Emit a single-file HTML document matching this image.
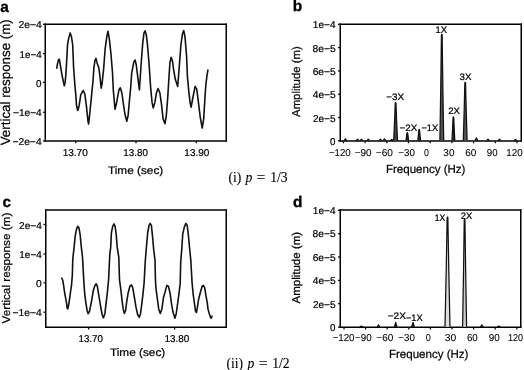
<!DOCTYPE html>
<html><head><meta charset="utf-8"><title>Figure</title>
<style>html,body{margin:0;padding:0;background:#fff;width:524px;height:370px;overflow:hidden}svg{display:block}text{fill:#000}</style>
</head><body>
<svg width="524" height="370" viewBox="0 0 524 370">
<rect width="524" height="370" fill="#fff"/>
<path d="M45.25,23.60 V141.85" stroke="#000" stroke-width="1.5" fill="none"/>
<path d="M226.25,23.60 V141.85" stroke="#000" stroke-width="1.5" fill="none"/>
<path d="M44.50,24.30 H227.00" stroke="#000" stroke-width="1.4" fill="none"/>
<path d="M44.50,141.00 H227.00" stroke="#000" stroke-width="1.7" fill="none"/>
<line x1="42.95" y1="24.30" x2="45.25" y2="24.30" stroke="#111" stroke-width="1.3"/>
<line x1="42.95" y1="53.60" x2="45.25" y2="53.60" stroke="#111" stroke-width="1.3"/>
<line x1="42.95" y1="82.30" x2="45.25" y2="82.30" stroke="#111" stroke-width="1.3"/>
<line x1="42.95" y1="112.30" x2="45.25" y2="112.30" stroke="#111" stroke-width="1.3"/>
<line x1="42.95" y1="140.90" x2="45.25" y2="140.90" stroke="#111" stroke-width="1.3"/>
<line x1="75.80" y1="141.00" x2="75.80" y2="143.30" stroke="#111" stroke-width="1.3"/>
<line x1="136.00" y1="141.00" x2="136.00" y2="143.30" stroke="#111" stroke-width="1.3"/>
<line x1="196.30" y1="141.00" x2="196.30" y2="143.30" stroke="#111" stroke-width="1.3"/>
<path d="M56.80,68.20 L57.40,64.20 L58.40,60.10 L59.10,59.20 L59.70,60.80 L60.50,66.20 L61.50,72.30 L62.40,77.00 L63.50,82.40 L64.30,85.80 L65.10,82.40 L65.90,74.30 L66.50,63.50 L67.00,55.40 L67.50,45.00 L68.60,38.60 L70.20,32.90 L71.50,37.00 L72.70,45.00 L73.60,67.60 L74.30,77.00 L75.00,86.50 L75.90,95.90 L76.40,104.30 L77.50,110.00 L77.90,110.40 L79.10,105.90 L80.80,94.60 L83.20,90.50 L84.80,93.80 L86.40,105.90 L87.90,120.50 L88.60,124.00 L89.90,112.40 L91.50,96.20 L93.10,80.00 L93.90,67.70 L95.00,60.40 L95.90,58.30 L97.10,62.90 L98.80,67.70 L99.90,75.80 L100.70,84.00 L101.20,88.10 L102.00,84.00 L103.60,69.30 L105.20,48.30 L106.90,36.10 L108.00,31.30 L109.30,38.60 L110.90,53.20 L112.50,72.60 L113.30,90.00 L115.00,109.20 L116.60,102.70 L119.00,89.70 L120.30,87.80 L121.90,93.00 L123.20,102.70 L124.90,114.00 L126.80,121.30 L128.10,115.60 L129.40,101.00 L130.50,89.70 L131.70,73.00 L133.80,62.10 L135.10,60.00 L136.20,64.50 L137.80,77.40 L139.40,90.00 L141.10,64.50 L142.70,43.40 L144.00,32.90 L145.10,30.80 L146.40,35.30 L147.50,45.00 L149.10,64.50 L150.80,89.70 L152.10,102.70 L153.20,107.90 L154.80,102.70 L156.40,93.00 L158.10,88.50 L159.90,93.00 L161.50,104.30 L163.10,118.90 L165.00,123.70 L166.30,115.60 L167.60,99.40 L168.80,80.00 L169.90,62.90 L171.20,57.20 L172.50,61.20 L173.60,69.30 L175.20,79.10 L177.70,86.50 L179.30,66.10 L180.90,45.00 L182.50,33.70 L183.70,30.50 L185.00,37.00 L186.60,56.40 L187.40,76.20 L188.70,90.40 L190.10,102.60 L191.10,107.10 L193.10,96.50 L195.10,86.40 L196.80,89.40 L198.20,100.60 L200.20,116.80 L202.20,128.00 L203.70,118.80 L204.90,98.50 L205.90,84.30 L206.90,76.20 L207.90,70.10" fill="none" stroke="#111" stroke-width="1.6" stroke-linejoin="round" stroke-linecap="round"/>
<path d="M45.75,209.15 V328.00" stroke="#000" stroke-width="1.5" fill="none"/>
<path d="M226.25,209.15 V328.00" stroke="#000" stroke-width="1.5" fill="none"/>
<path d="M45.00,210.00 H227.00" stroke="#000" stroke-width="1.7" fill="none"/>
<path d="M45.00,327.25 H227.00" stroke="#000" stroke-width="1.5" fill="none"/>
<line x1="43.45" y1="224.50" x2="45.75" y2="224.50" stroke="#111" stroke-width="1.3"/>
<line x1="43.45" y1="254.00" x2="45.75" y2="254.00" stroke="#111" stroke-width="1.3"/>
<line x1="43.45" y1="282.80" x2="45.75" y2="282.80" stroke="#111" stroke-width="1.3"/>
<line x1="43.45" y1="312.20" x2="45.75" y2="312.20" stroke="#111" stroke-width="1.3"/>
<line x1="88.60" y1="327.25" x2="88.60" y2="329.55" stroke="#111" stroke-width="1.3"/>
<line x1="174.60" y1="327.25" x2="174.60" y2="329.55" stroke="#111" stroke-width="1.3"/>
<path d="M61.80,278.20 L62.80,280.50 L63.80,286.60 L64.50,292.00 L65.50,297.40 L66.50,302.80 L67.20,308.20 L67.80,308.90 L68.50,305.50 L69.60,298.80 L70.50,292.00 L71.50,285.30 L72.30,275.80 L72.80,258.70 L74.10,247.40 L75.20,236.10 L76.40,229.60 L77.70,226.30 L79.00,228.00 L80.10,234.40 L81.20,245.80 L82.50,257.10 L83.80,281.00 L84.60,292.70 L85.80,302.40 L87.10,310.50 L88.20,313.70 L89.50,311.30 L91.60,300.80 L93.20,291.10 L94.90,285.40 L96.20,283.80 L97.30,286.20 L98.90,295.90 L100.50,305.60 L102.10,314.50 L103.40,317.80 L104.90,313.70 L106.20,302.40 L107.50,291.10 L108.60,279.70 L109.80,253.90 L110.70,247.40 L111.40,232.80 L112.70,226.30 L114.00,223.90 L115.10,226.30 L116.20,234.40 L117.20,247.40 L118.80,257.10 L119.50,279.70 L120.80,289.40 L122.10,300.80 L123.20,308.90 L124.30,313.40 L125.60,310.50 L126.60,302.40 L128.20,292.70 L129.90,286.20 L131.50,284.90 L132.80,287.80 L134.40,297.50 L136.00,307.20 L137.60,314.50 L139.30,317.30 L140.50,313.70 L142.00,302.40 L143.10,292.70 L144.10,283.00 L145.20,262.00 L146.40,247.40 L147.70,232.80 L149.00,225.50 L150.10,223.40 L151.40,225.50 L152.50,236.10 L153.80,250.60 L155.00,260.30 L155.50,281.30 L156.10,289.40 L157.40,299.10 L158.70,308.90 L160.30,313.40 L161.90,308.90 L163.50,297.50 L164.90,292.70 L166.80,285.40 L168.40,286.20 L170.00,292.70 L171.30,302.40 L173.00,312.10 L174.90,318.30 L176.20,313.70 L177.80,302.40 L179.10,292.70 L180.20,283.00 L180.70,262.00 L181.90,247.40 L182.70,234.40 L184.30,227.10 L185.90,223.40 L187.20,225.50 L188.30,234.40 L189.50,247.40 L190.80,260.30 L192.10,283.00 L193.20,294.30 L194.30,302.40 L195.60,311.30 L196.40,312.50 L197.40,307.30 L198.60,299.20 L199.90,294.30 L201.20,289.50 L202.30,285.90 L203.40,285.40 L204.70,287.80 L206.00,295.90 L207.20,302.40 L208.00,308.90 L209.30,313.80 L210.40,317.00 L211.20,318.30 L212.00,316.20" fill="none" stroke="#111" stroke-width="1.6" stroke-linejoin="round" stroke-linecap="round"/>
<path d="M340.25,23.60 V141.85" stroke="#000" stroke-width="1.5" fill="none"/>
<path d="M521.25,23.60 V141.85" stroke="#000" stroke-width="1.5" fill="none"/>
<path d="M339.50,24.30 H522.00" stroke="#000" stroke-width="1.4" fill="none"/>
<path d="M339.50,141.00 H522.00" stroke="#000" stroke-width="1.7" fill="none"/>
<line x1="337.95" y1="24.30" x2="340.25" y2="24.30" stroke="#111" stroke-width="1.3"/>
<line x1="337.95" y1="47.60" x2="340.25" y2="47.60" stroke="#111" stroke-width="1.3"/>
<line x1="337.95" y1="70.90" x2="340.25" y2="70.90" stroke="#111" stroke-width="1.3"/>
<line x1="337.95" y1="94.20" x2="340.25" y2="94.20" stroke="#111" stroke-width="1.3"/>
<line x1="337.95" y1="117.50" x2="340.25" y2="117.50" stroke="#111" stroke-width="1.3"/>
<line x1="337.95" y1="140.80" x2="340.25" y2="140.80" stroke="#111" stroke-width="1.3"/>
<line x1="343.40" y1="141.00" x2="343.40" y2="143.30" stroke="#111" stroke-width="1.3"/>
<line x1="365.10" y1="141.00" x2="365.10" y2="143.30" stroke="#111" stroke-width="1.3"/>
<line x1="386.80" y1="141.00" x2="386.80" y2="143.30" stroke="#111" stroke-width="1.3"/>
<line x1="408.50" y1="141.00" x2="408.50" y2="143.30" stroke="#111" stroke-width="1.3"/>
<line x1="430.20" y1="141.00" x2="430.20" y2="143.30" stroke="#111" stroke-width="1.3"/>
<line x1="451.90" y1="141.00" x2="451.90" y2="143.30" stroke="#111" stroke-width="1.3"/>
<line x1="473.60" y1="141.00" x2="473.60" y2="143.30" stroke="#111" stroke-width="1.3"/>
<line x1="495.30" y1="141.00" x2="495.30" y2="143.30" stroke="#111" stroke-width="1.3"/>
<line x1="517.00" y1="141.00" x2="517.00" y2="143.30" stroke="#111" stroke-width="1.3"/>
<path d="M393.70,140.50 L394.55,121.50 L395.25,103.10 L395.60,102.50 L395.95,103.10 L396.65,121.50 L397.50,140.50 Z" fill="#444" stroke="none"/>
<path d="M393.70,140.50 L394.55,121.50 L395.25,103.10 L395.60,102.50 L395.95,103.10 L396.65,121.50 L397.50,140.50" fill="none" stroke="#111" stroke-width="1.25" stroke-linejoin="round"/>
<path d="M406.00,140.50 L406.52,136.55 L406.95,133.20 L407.30,132.60 L407.65,133.20 L408.08,136.55 L408.60,140.50 Z" fill="#222" stroke="none"/>
<path d="M406.00,140.50 L406.52,136.55 L406.95,133.20 L407.30,132.60 L407.65,133.20 L408.08,136.55 L408.60,140.50" fill="none" stroke="#111" stroke-width="1.25" stroke-linejoin="round"/>
<path d="M417.90,140.50 L418.42,134.95 L418.85,130.00 L419.20,129.40 L419.55,130.00 L419.98,134.95 L420.50,140.50 Z" fill="#222" stroke="none"/>
<path d="M417.90,140.50 L418.42,134.95 L418.85,130.00 L419.20,129.40 L419.55,130.00 L419.98,134.95 L420.50,140.50" fill="none" stroke="#111" stroke-width="1.25" stroke-linejoin="round"/>
<path d="M439.90,140.50 L440.75,87.35 L441.45,34.80 L441.80,34.20 L442.15,34.80 L442.85,87.35 L443.70,140.50 Z" fill="#555" stroke="none"/>
<path d="M439.90,140.50 L440.75,87.35 L441.45,34.80 L441.80,34.20 L442.15,34.80 L442.85,87.35 L443.70,140.50" fill="none" stroke="#111" stroke-width="1.25" stroke-linejoin="round"/>
<path d="M452.00,140.50 L452.58,128.70 L453.05,117.50 L453.40,116.90 L453.75,117.50 L454.22,128.70 L454.80,140.50 Z" fill="#222" stroke="none"/>
<path d="M452.00,140.50 L452.58,128.70 L453.05,117.50 L453.40,116.90 L453.75,117.50 L454.22,128.70 L454.80,140.50" fill="none" stroke="#111" stroke-width="1.25" stroke-linejoin="round"/>
<path d="M463.30,140.50 L464.15,111.35 L464.85,82.80 L465.20,82.20 L465.55,82.80 L466.25,111.35 L467.10,140.50 Z" fill="#555" stroke="none"/>
<path d="M463.30,140.50 L464.15,111.35 L464.85,82.80 L465.20,82.20 L465.55,82.80 L466.25,111.35 L467.10,140.50" fill="none" stroke="#111" stroke-width="1.25" stroke-linejoin="round"/>
<path d="M344.10,140.50 L345.40,138.70 L346.70,140.50" fill="#111" stroke="#111" stroke-width="1.1" stroke-linejoin="round" stroke-linecap="round"/>
<path d="M356.20,140.50 L357.50,139.00 L358.80,140.50" fill="#111" stroke="#111" stroke-width="1.1" stroke-linejoin="round" stroke-linecap="round"/>
<path d="M360.20,140.50 L361.50,139.00 L362.80,140.50" fill="#111" stroke="#111" stroke-width="1.1" stroke-linejoin="round" stroke-linecap="round"/>
<path d="M367.00,140.50 L368.30,139.00 L369.60,140.50" fill="#111" stroke="#111" stroke-width="1.1" stroke-linejoin="round" stroke-linecap="round"/>
<path d="M379.10,140.50 L380.40,139.00 L381.70,140.50" fill="#111" stroke="#111" stroke-width="1.1" stroke-linejoin="round" stroke-linecap="round"/>
<path d="M383.10,140.50 L384.40,138.70 L385.70,140.50" fill="#111" stroke="#111" stroke-width="1.1" stroke-linejoin="round" stroke-linecap="round"/>
<path d="M390.50,140.50 L391.80,139.30 L393.10,140.50" fill="#111" stroke="#111" stroke-width="1.1" stroke-linejoin="round" stroke-linecap="round"/>
<path d="M475.10,140.50 L476.40,137.70 L477.70,140.50" fill="#111" stroke="#111" stroke-width="1.1" stroke-linejoin="round" stroke-linecap="round"/>
<path d="M486.70,140.50 L488.00,139.00 L489.30,140.50" fill="#111" stroke="#111" stroke-width="1.1" stroke-linejoin="round" stroke-linecap="round"/>
<path d="M498.20,140.50 L499.50,139.00 L500.80,140.50" fill="#111" stroke="#111" stroke-width="1.1" stroke-linejoin="round" stroke-linecap="round"/>
<path d="M514.20,140.50 L515.50,139.50 L516.80,140.50" fill="#111" stroke="#111" stroke-width="1.1" stroke-linejoin="round" stroke-linecap="round"/>
<path d="M340.25,209.15 V328.00" stroke="#000" stroke-width="1.5" fill="none"/>
<path d="M520.75,209.15 V328.00" stroke="#000" stroke-width="1.5" fill="none"/>
<path d="M339.50,210.00 H521.50" stroke="#000" stroke-width="1.7" fill="none"/>
<path d="M339.50,327.25 H521.50" stroke="#000" stroke-width="1.5" fill="none"/>
<line x1="337.95" y1="210.30" x2="340.25" y2="210.30" stroke="#111" stroke-width="1.3"/>
<line x1="337.95" y1="233.70" x2="340.25" y2="233.70" stroke="#111" stroke-width="1.3"/>
<line x1="337.95" y1="257.00" x2="340.25" y2="257.00" stroke="#111" stroke-width="1.3"/>
<line x1="337.95" y1="280.40" x2="340.25" y2="280.40" stroke="#111" stroke-width="1.3"/>
<line x1="337.95" y1="303.70" x2="340.25" y2="303.70" stroke="#111" stroke-width="1.3"/>
<line x1="337.95" y1="327.10" x2="340.25" y2="327.10" stroke="#111" stroke-width="1.3"/>
<line x1="344.00" y1="327.25" x2="344.00" y2="329.55" stroke="#111" stroke-width="1.3"/>
<line x1="365.60" y1="327.25" x2="365.60" y2="329.55" stroke="#111" stroke-width="1.3"/>
<line x1="387.20" y1="327.25" x2="387.20" y2="329.55" stroke="#111" stroke-width="1.3"/>
<line x1="408.80" y1="327.25" x2="408.80" y2="329.55" stroke="#111" stroke-width="1.3"/>
<line x1="430.40" y1="327.25" x2="430.40" y2="329.55" stroke="#111" stroke-width="1.3"/>
<line x1="452.00" y1="327.25" x2="452.00" y2="329.55" stroke="#111" stroke-width="1.3"/>
<line x1="473.60" y1="327.25" x2="473.60" y2="329.55" stroke="#111" stroke-width="1.3"/>
<line x1="495.20" y1="327.25" x2="495.20" y2="329.55" stroke="#111" stroke-width="1.3"/>
<line x1="516.80" y1="327.25" x2="516.80" y2="329.55" stroke="#111" stroke-width="1.3"/>
<path d="M445.00,326.75 L446.18,271.88 L447.15,217.60 L447.50,217.00 L447.85,217.60 L448.82,271.88 L450.00,326.75 Z" fill="#ddd" stroke="none"/>
<path d="M445.00,326.75 L446.18,271.88 L447.15,217.60 L447.50,217.00 L447.85,217.60 L448.82,271.88 L450.00,326.75" fill="none" stroke="#111" stroke-width="1.25" stroke-linejoin="round"/>
<path d="M462.60,326.75 L463.51,273.02 L464.25,219.90 L464.60,219.30 L464.95,219.90 L465.69,273.02 L466.60,326.75 Z" fill="#ccc" stroke="none"/>
<path d="M462.60,326.75 L463.51,273.02 L464.25,219.90 L464.60,219.30 L464.95,219.90 L465.69,273.02 L466.60,326.75" fill="none" stroke="#111" stroke-width="1.25" stroke-linejoin="round"/>
<path d="M360.00,326.75 L361.30,325.95 L362.60,326.75" fill="#111" stroke="#111" stroke-width="1.1" stroke-linejoin="round" stroke-linecap="round"/>
<path d="M377.20,326.75 L378.50,324.75 L379.80,326.75" fill="#111" stroke="#111" stroke-width="1.1" stroke-linejoin="round" stroke-linecap="round"/>
<path d="M394.40,326.75 L395.70,322.25 L397.00,326.75" fill="#111" stroke="#111" stroke-width="1.1" stroke-linejoin="round" stroke-linecap="round"/>
<path d="M411.70,326.75 L413.00,322.25 L414.30,326.75" fill="#111" stroke="#111" stroke-width="1.1" stroke-linejoin="round" stroke-linecap="round"/>
<path d="M480.50,326.75 L481.80,324.75 L483.10,326.75" fill="#111" stroke="#111" stroke-width="1.1" stroke-linejoin="round" stroke-linecap="round"/>
<path d="M497.50,326.75 L498.80,325.95 L500.10,326.75" fill="#111" stroke="#111" stroke-width="1.1" stroke-linejoin="round" stroke-linecap="round"/>
<text transform="translate(228.50 181.90) scale(1.0 1)" font-size="13.6" text-anchor="start" font-weight="normal" font-family='"Liberation Serif", "Times New Roman", serif' stroke="#000" stroke-width="0.1" >(i)</text>
<text transform="translate(245.60 181.90) scale(1.0 1)" font-size="13.6" text-anchor="start" font-weight="normal" font-family='"Liberation Serif", "Times New Roman", serif' stroke="#000" stroke-width="0.1" font-style="italic">p</text>
<text transform="translate(256.60 181.90) scale(1.0 1)" font-size="13.6" text-anchor="start" font-weight="normal" font-family='"Liberation Serif", "Times New Roman", serif' textLength="8.90" lengthAdjust="spacingAndGlyphs" stroke="#000" stroke-width="0.1" >=</text>
<text transform="translate(270.20 181.90) scale(1.0 1)" font-size="13.6" text-anchor="start" font-weight="normal" font-family='"Liberation Serif", "Times New Roman", serif' stroke="#000" stroke-width="0.1" >1/3</text>
<text transform="translate(226.40 367.80) scale(1.0 1)" font-size="13.6" text-anchor="start" font-weight="normal" font-family='"Liberation Serif", "Times New Roman", serif' stroke="#000" stroke-width="0.1" >(ii)</text>
<text transform="translate(247.40 367.80) scale(1.0 1)" font-size="13.6" text-anchor="start" font-weight="normal" font-family='"Liberation Serif", "Times New Roman", serif' stroke="#000" stroke-width="0.1" font-style="italic">p</text>
<text transform="translate(258.70 367.80) scale(1.0 1)" font-size="13.6" text-anchor="start" font-weight="normal" font-family='"Liberation Serif", "Times New Roman", serif' textLength="8.90" lengthAdjust="spacingAndGlyphs" stroke="#000" stroke-width="0.1" >=</text>
<text transform="translate(272.30 367.80) scale(1.0 1)" font-size="13.6" text-anchor="start" font-weight="normal" font-family='"Liberation Serif", "Times New Roman", serif' stroke="#000" stroke-width="0.1" >1/2</text>
<text transform="translate(4.551 12.000) scale(1.0000 1)" text-rendering="geometricPrecision" font-size="15.400" text-anchor="middle" font-weight="bold" font-family='"Liberation Sans", Arial, Helvetica, sans-serif' stroke="#000" stroke-width="0.3" fill="#000">a</text>
<text transform="translate(41.881 28.000) scale(1.0356 1)" text-rendering="geometricPrecision" font-size="10.000" text-anchor="end" font-weight="normal" font-family='"Liberation Sans", Arial, Helvetica, sans-serif' stroke="#000" stroke-width="0.22" fill="#000">2e−4</text>
<text transform="translate(41.655 58.000) scale(0.9785 1)" text-rendering="geometricPrecision" font-size="10.000" text-anchor="end" font-weight="normal" font-family='"Liberation Sans", Arial, Helvetica, sans-serif' stroke="#000" stroke-width="0.22" fill="#000">1e−4</text>
<text transform="translate(41.558 87.000) scale(0.9802 1)" text-rendering="geometricPrecision" font-size="10.000" text-anchor="end" font-weight="normal" font-family='"Liberation Sans", Arial, Helvetica, sans-serif' stroke="#000" stroke-width="0.22" fill="#000">0</text>
<text transform="translate(41.728 116.000) scale(1.0130 1)" text-rendering="geometricPrecision" font-size="10.000" text-anchor="end" font-weight="normal" font-family='"Liberation Sans", Arial, Helvetica, sans-serif' stroke="#000" stroke-width="0.22" fill="#000">−1e−4</text>
<text transform="translate(41.608 145.000) scale(1.0284 1)" text-rendering="geometricPrecision" font-size="10.000" text-anchor="end" font-weight="normal" font-family='"Liberation Sans", Arial, Helvetica, sans-serif' stroke="#000" stroke-width="0.22" fill="#000">−2e−4</text>
<text transform="translate(75.199 156.000) scale(1.0010 1)" text-rendering="geometricPrecision" font-size="10.000" text-anchor="middle" font-weight="normal" font-family='"Liberation Sans", Arial, Helvetica, sans-serif' stroke="#000" stroke-width="0.22" fill="#000">13.70</text>
<text transform="translate(135.618 156.000) scale(0.9798 1)" text-rendering="geometricPrecision" font-size="10.000" text-anchor="middle" font-weight="normal" font-family='"Liberation Sans", Arial, Helvetica, sans-serif' stroke="#000" stroke-width="0.22" fill="#000">13.80</text>
<text transform="translate(196.820 156.000) scale(0.9949 1)" text-rendering="geometricPrecision" font-size="10.000" text-anchor="middle" font-weight="normal" font-family='"Liberation Sans", Arial, Helvetica, sans-serif' stroke="#000" stroke-width="0.22" fill="#000">13.90</text>
<text transform="translate(135.585 174.000) scale(1.0856 1)" text-rendering="geometricPrecision" font-size="10.900" text-anchor="middle" font-weight="normal" font-family='"Liberation Sans", Arial, Helvetica, sans-serif' stroke="#000" stroke-width="0.22" fill="#000">Time (sec)</text>
<text transform="translate(10.000 82.265) rotate(-90) scale(0.9968 1)" text-rendering="geometricPrecision" font-size="13.400" text-anchor="middle" font-weight="normal" font-family='"Liberation Sans", Arial, Helvetica, sans-serif' stroke="#000" stroke-width="0.22" fill="#000">Vertical response (m)</text>
<text transform="translate(6.825 207.000) scale(1.0000 1)" text-rendering="geometricPrecision" font-size="15.400" text-anchor="middle" font-weight="bold" font-family='"Liberation Sans", Arial, Helvetica, sans-serif' stroke="#000" stroke-width="0.3" fill="#000">c</text>
<text transform="translate(41.818 229.000) scale(1.0082 1)" text-rendering="geometricPrecision" font-size="10.000" text-anchor="end" font-weight="normal" font-family='"Liberation Sans", Arial, Helvetica, sans-serif' stroke="#000" stroke-width="0.22" fill="#000">2e−4</text>
<text transform="translate(41.709 258.000) scale(0.9929 1)" text-rendering="geometricPrecision" font-size="10.000" text-anchor="end" font-weight="normal" font-family='"Liberation Sans", Arial, Helvetica, sans-serif' stroke="#000" stroke-width="0.22" fill="#000">1e−4</text>
<text transform="translate(41.700 287.000) scale(1.0247 1)" text-rendering="geometricPrecision" font-size="10.000" text-anchor="end" font-weight="normal" font-family='"Liberation Sans", Arial, Helvetica, sans-serif' stroke="#000" stroke-width="0.22" fill="#000">0</text>
<text transform="translate(41.698 316.000) scale(1.0277 1)" text-rendering="geometricPrecision" font-size="10.000" text-anchor="end" font-weight="normal" font-family='"Liberation Sans", Arial, Helvetica, sans-serif' stroke="#000" stroke-width="0.22" fill="#000">−1e−4</text>
<text transform="translate(90.704 342.000) scale(0.9776 1)" text-rendering="geometricPrecision" font-size="10.000" text-anchor="middle" font-weight="normal" font-family='"Liberation Sans", Arial, Helvetica, sans-serif' stroke="#000" stroke-width="0.22" fill="#000">13.70</text>
<text transform="translate(176.880 342.000) scale(0.9930 1)" text-rendering="geometricPrecision" font-size="10.000" text-anchor="middle" font-weight="normal" font-family='"Liberation Sans", Arial, Helvetica, sans-serif' stroke="#000" stroke-width="0.22" fill="#000">13.80</text>
<text transform="translate(137.582 356.000) scale(1.0828 1)" text-rendering="geometricPrecision" font-size="10.900" text-anchor="middle" font-weight="normal" font-family='"Liberation Sans", Arial, Helvetica, sans-serif' stroke="#000" stroke-width="0.22" fill="#000">Time (sec)</text>
<text transform="translate(10.000 268.088) rotate(-90) scale(1.0477 1)" text-rendering="geometricPrecision" font-size="11.200" text-anchor="middle" font-weight="normal" font-family='"Liberation Sans", Arial, Helvetica, sans-serif' stroke="#000" stroke-width="0.22" fill="#000">Vertical response (m)</text>
<text transform="translate(297.457 11.000) scale(1.0000 1)" text-rendering="geometricPrecision" font-size="15.400" text-anchor="middle" font-weight="bold" font-family='"Liberation Sans", Arial, Helvetica, sans-serif' stroke="#000" stroke-width="0.3" fill="#000">b</text>
<text transform="translate(335.507 28.000) scale(1.0077 1)" text-rendering="geometricPrecision" font-size="10.000" text-anchor="end" font-weight="normal" font-family='"Liberation Sans", Arial, Helvetica, sans-serif' stroke="#000" stroke-width="0.22" fill="#000">1e−4</text>
<text transform="translate(335.655 52.000) scale(1.0232 1)" text-rendering="geometricPrecision" font-size="10.000" text-anchor="end" font-weight="normal" font-family='"Liberation Sans", Arial, Helvetica, sans-serif' stroke="#000" stroke-width="0.22" fill="#000">8e−5</text>
<text transform="translate(335.675 75.000) scale(1.0227 1)" text-rendering="geometricPrecision" font-size="10.000" text-anchor="end" font-weight="normal" font-family='"Liberation Sans", Arial, Helvetica, sans-serif' stroke="#000" stroke-width="0.22" fill="#000">6e−5</text>
<text transform="translate(335.685 98.000) scale(1.0196 1)" text-rendering="geometricPrecision" font-size="10.000" text-anchor="end" font-weight="normal" font-family='"Liberation Sans", Arial, Helvetica, sans-serif' stroke="#000" stroke-width="0.22" fill="#000">4e−5</text>
<text transform="translate(335.572 122.000) scale(1.0054 1)" text-rendering="geometricPrecision" font-size="10.000" text-anchor="end" font-weight="normal" font-family='"Liberation Sans", Arial, Helvetica, sans-serif' stroke="#000" stroke-width="0.22" fill="#000">2e−5</text>
<text transform="translate(335.539 145.000) scale(0.9748 1)" text-rendering="geometricPrecision" font-size="10.000" text-anchor="end" font-weight="normal" font-family='"Liberation Sans", Arial, Helvetica, sans-serif' stroke="#000" stroke-width="0.22" fill="#000">0</text>
<text transform="translate(339.828 156.000) scale(0.9663 1)" text-rendering="geometricPrecision" font-size="10.000" text-anchor="middle" font-weight="normal" font-family='"Liberation Sans", Arial, Helvetica, sans-serif' stroke="#000" stroke-width="0.08" fill="#000">−120</text>
<text transform="translate(363.212 156.000) scale(0.9893 1)" text-rendering="geometricPrecision" font-size="10.000" text-anchor="middle" font-weight="normal" font-family='"Liberation Sans", Arial, Helvetica, sans-serif' stroke="#000" stroke-width="0.08" fill="#000">−90</text>
<text transform="translate(384.297 156.000) scale(1.0088 1)" text-rendering="geometricPrecision" font-size="10.000" text-anchor="middle" font-weight="normal" font-family='"Liberation Sans", Arial, Helvetica, sans-serif' stroke="#000" stroke-width="0.08" fill="#000">−60</text>
<text transform="translate(406.542 156.000) scale(0.9758 1)" text-rendering="geometricPrecision" font-size="10.000" text-anchor="middle" font-weight="normal" font-family='"Liberation Sans", Arial, Helvetica, sans-serif' stroke="#000" stroke-width="0.08" fill="#000">−30</text>
<text transform="translate(426.351 156.000) scale(0.8692 1)" text-rendering="geometricPrecision" font-size="10.000" text-anchor="middle" font-weight="normal" font-family='"Liberation Sans", Arial, Helvetica, sans-serif' stroke="#000" stroke-width="0.08" fill="#000">0</text>
<text transform="translate(448.918 156.000) scale(0.9980 1)" text-rendering="geometricPrecision" font-size="10.000" text-anchor="middle" font-weight="normal" font-family='"Liberation Sans", Arial, Helvetica, sans-serif' stroke="#000" stroke-width="0.08" fill="#000">30</text>
<text transform="translate(470.746 156.000) scale(1.0002 1)" text-rendering="geometricPrecision" font-size="10.000" text-anchor="middle" font-weight="normal" font-family='"Liberation Sans", Arial, Helvetica, sans-serif' stroke="#000" stroke-width="0.08" fill="#000">60</text>
<text transform="translate(492.167 156.000) scale(0.9662 1)" text-rendering="geometricPrecision" font-size="10.000" text-anchor="middle" font-weight="normal" font-family='"Liberation Sans", Arial, Helvetica, sans-serif' stroke="#000" stroke-width="0.08" fill="#000">90</text>
<text transform="translate(514.439 156.000) scale(0.9785 1)" text-rendering="geometricPrecision" font-size="10.000" text-anchor="middle" font-weight="normal" font-family='"Liberation Sans", Arial, Helvetica, sans-serif' stroke="#000" stroke-width="0.08" fill="#000">120</text>
<text transform="translate(425.674 173.000) scale(0.9881 1)" text-rendering="geometricPrecision" font-size="11.700" text-anchor="middle" font-weight="normal" font-family='"Liberation Sans", Arial, Helvetica, sans-serif' stroke="#000" stroke-width="0.22" fill="#000">Frequency (Hz)</text>
<text transform="translate(300.000 81.589) rotate(-90) scale(0.9974 1)" text-rendering="geometricPrecision" font-size="11.400" text-anchor="middle" font-weight="normal" font-family='"Liberation Sans", Arial, Helvetica, sans-serif' stroke="#000" stroke-width="0.22" fill="#000">Amplitude (m)</text>
<text transform="translate(395.242 100.000) scale(1.0593 1)" text-rendering="geometricPrecision" font-size="9.400" text-anchor="middle" font-weight="normal" font-family='"Liberation Sans", Arial, Helvetica, sans-serif' stroke="#000" stroke-width="0.22" fill="#000">−3X</text>
<text transform="translate(408.308 131.000) scale(1.0467 1)" text-rendering="geometricPrecision" font-size="9.400" text-anchor="middle" font-weight="normal" font-family='"Liberation Sans", Arial, Helvetica, sans-serif' stroke="#000" stroke-width="0.22" fill="#000">−2X</text>
<text transform="translate(429.775 131.000) scale(0.9837 1)" text-rendering="geometricPrecision" font-size="9.400" text-anchor="middle" font-weight="normal" font-family='"Liberation Sans", Arial, Helvetica, sans-serif' stroke="#000" stroke-width="0.22" fill="#000">−1X</text>
<text transform="translate(441.318 33.000) scale(1.0029 1)" text-rendering="geometricPrecision" font-size="9.400" text-anchor="middle" font-weight="normal" font-family='"Liberation Sans", Arial, Helvetica, sans-serif' stroke="#000" stroke-width="0.22" fill="#000">1X</text>
<text transform="translate(454.108 114.000) scale(1.0254 1)" text-rendering="geometricPrecision" font-size="9.400" text-anchor="middle" font-weight="normal" font-family='"Liberation Sans", Arial, Helvetica, sans-serif' stroke="#000" stroke-width="0.22" fill="#000">2X</text>
<text transform="translate(465.505 80.000) scale(1.0261 1)" text-rendering="geometricPrecision" font-size="9.400" text-anchor="middle" font-weight="normal" font-family='"Liberation Sans", Arial, Helvetica, sans-serif' stroke="#000" stroke-width="0.22" fill="#000">3X</text>
<text transform="translate(297.669 207.000) scale(1.0000 1)" text-rendering="geometricPrecision" font-size="15.400" text-anchor="middle" font-weight="bold" font-family='"Liberation Sans", Arial, Helvetica, sans-serif' stroke="#000" stroke-width="0.3" fill="#000">d</text>
<text transform="translate(335.507 214.000) scale(1.0077 1)" text-rendering="geometricPrecision" font-size="10.000" text-anchor="end" font-weight="normal" font-family='"Liberation Sans", Arial, Helvetica, sans-serif' stroke="#000" stroke-width="0.22" fill="#000">1e−4</text>
<text transform="translate(335.655 237.000) scale(1.0232 1)" text-rendering="geometricPrecision" font-size="10.000" text-anchor="end" font-weight="normal" font-family='"Liberation Sans", Arial, Helvetica, sans-serif' stroke="#000" stroke-width="0.22" fill="#000">8e−5</text>
<text transform="translate(335.675 261.000) scale(1.0227 1)" text-rendering="geometricPrecision" font-size="10.000" text-anchor="end" font-weight="normal" font-family='"Liberation Sans", Arial, Helvetica, sans-serif' stroke="#000" stroke-width="0.22" fill="#000">6e−5</text>
<text transform="translate(335.685 284.000) scale(1.0196 1)" text-rendering="geometricPrecision" font-size="10.000" text-anchor="end" font-weight="normal" font-family='"Liberation Sans", Arial, Helvetica, sans-serif' stroke="#000" stroke-width="0.22" fill="#000">4e−5</text>
<text transform="translate(335.572 308.000) scale(1.0054 1)" text-rendering="geometricPrecision" font-size="10.000" text-anchor="end" font-weight="normal" font-family='"Liberation Sans", Arial, Helvetica, sans-serif' stroke="#000" stroke-width="0.22" fill="#000">2e−5</text>
<text transform="translate(335.539 331.000) scale(0.9748 1)" text-rendering="geometricPrecision" font-size="10.000" text-anchor="end" font-weight="normal" font-family='"Liberation Sans", Arial, Helvetica, sans-serif' stroke="#000" stroke-width="0.22" fill="#000">0</text>
<text transform="translate(343.558 341.000) scale(0.9732 1)" text-rendering="geometricPrecision" font-size="10.000" text-anchor="middle" font-weight="normal" font-family='"Liberation Sans", Arial, Helvetica, sans-serif' stroke="#000" stroke-width="0.08" fill="#000">−120</text>
<text transform="translate(363.397 341.000) scale(0.9754 1)" text-rendering="geometricPrecision" font-size="10.000" text-anchor="middle" font-weight="normal" font-family='"Liberation Sans", Arial, Helvetica, sans-serif' stroke="#000" stroke-width="0.08" fill="#000">−90</text>
<text transform="translate(384.849 341.000) scale(1.0002 1)" text-rendering="geometricPrecision" font-size="10.000" text-anchor="middle" font-weight="normal" font-family='"Liberation Sans", Arial, Helvetica, sans-serif' stroke="#000" stroke-width="0.08" fill="#000">−60</text>
<text transform="translate(406.542 341.000) scale(0.9758 1)" text-rendering="geometricPrecision" font-size="10.000" text-anchor="middle" font-weight="normal" font-family='"Liberation Sans", Arial, Helvetica, sans-serif' stroke="#000" stroke-width="0.08" fill="#000">−30</text>
<text transform="translate(428.245 341.000) scale(0.8964 1)" text-rendering="geometricPrecision" font-size="10.000" text-anchor="middle" font-weight="normal" font-family='"Liberation Sans", Arial, Helvetica, sans-serif' stroke="#000" stroke-width="0.08" fill="#000">0</text>
<text transform="translate(450.405 341.000) scale(1.0380 1)" text-rendering="geometricPrecision" font-size="10.000" text-anchor="middle" font-weight="normal" font-family='"Liberation Sans", Arial, Helvetica, sans-serif' stroke="#000" stroke-width="0.08" fill="#000">30</text>
<text transform="translate(472.324 341.000) scale(0.9771 1)" text-rendering="geometricPrecision" font-size="10.000" text-anchor="middle" font-weight="normal" font-family='"Liberation Sans", Arial, Helvetica, sans-serif' stroke="#000" stroke-width="0.08" fill="#000">60</text>
<text transform="translate(494.176 341.000) scale(0.9878 1)" text-rendering="geometricPrecision" font-size="10.000" text-anchor="middle" font-weight="normal" font-family='"Liberation Sans", Arial, Helvetica, sans-serif' stroke="#000" stroke-width="0.08" fill="#000">90</text>
<text transform="translate(515.607 341.000) scale(0.9023 1)" text-rendering="geometricPrecision" font-size="10.000" text-anchor="middle" font-weight="normal" font-family='"Liberation Sans", Arial, Helvetica, sans-serif' stroke="#000" stroke-width="0.08" fill="#000">120</text>
<text transform="translate(428.674 358.000) scale(0.9881 1)" text-rendering="geometricPrecision" font-size="11.700" text-anchor="middle" font-weight="normal" font-family='"Liberation Sans", Arial, Helvetica, sans-serif' stroke="#000" stroke-width="0.22" fill="#000">Frequency (Hz)</text>
<text transform="translate(300.000 267.685) rotate(-90) scale(1.0109 1)" text-rendering="geometricPrecision" font-size="11.400" text-anchor="middle" font-weight="normal" font-family='"Liberation Sans", Arial, Helvetica, sans-serif' stroke="#000" stroke-width="0.22" fill="#000">Amplitude (m)</text>
<text transform="translate(396.791 319.000) scale(1.0818 1)" text-rendering="geometricPrecision" font-size="9.400" text-anchor="middle" font-weight="normal" font-family='"Liberation Sans", Arial, Helvetica, sans-serif' stroke="#000" stroke-width="0.22" fill="#000">−2X</text>
<text transform="translate(414.238 321.000) scale(0.9847 1)" text-rendering="geometricPrecision" font-size="9.400" text-anchor="middle" font-weight="normal" font-family='"Liberation Sans", Arial, Helvetica, sans-serif' stroke="#000" stroke-width="0.22" fill="#000">−1X</text>
<text transform="translate(439.981 221.000) scale(0.9083 1)" text-rendering="geometricPrecision" font-size="9.400" text-anchor="middle" font-weight="normal" font-family='"Liberation Sans", Arial, Helvetica, sans-serif' stroke="#000" stroke-width="0.22" fill="#000">1X</text>
<text transform="translate(466.610 219.000) scale(1.0045 1)" text-rendering="geometricPrecision" font-size="9.400" text-anchor="middle" font-weight="normal" font-family='"Liberation Sans", Arial, Helvetica, sans-serif' stroke="#000" stroke-width="0.22" fill="#000">2X</text>
</svg>
</body></html>
